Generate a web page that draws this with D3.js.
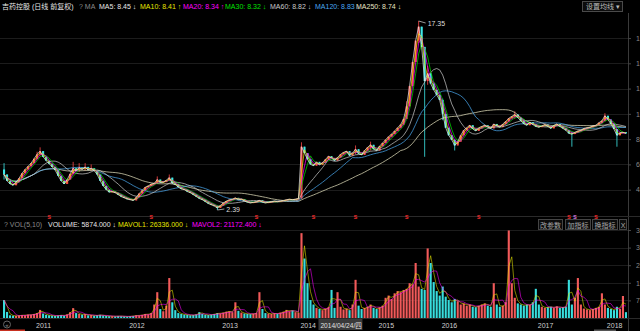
<!DOCTYPE html>
<html>
<head>
<meta charset="utf-8">
<script src="https://cdn.jsdelivr.net/npm/d3@7"></script>
<style>
  html, body { margin: 0; padding: 0; background: #000; }
  svg { display: block; font-family: "Liberation Sans", Arial, "Noto Sans CJK SC", sans-serif; }
</style>
</head>
<body>
<svg id="chart" width="640" height="331"></svg>
<script>
// closing prices, one candle per ~2 weeks of trading
const closes = [
  5.2, 4.7, 4.45, 4.35, 4.6, 4.9, 5.3, 5.6, 5.85, 6.1,
  6.45, 6.8, 7.05, 6.6, 6.3, 6.05, 5.8, 5.55, 5.1, 4.7,
  4.45, 4.8, 5.25, 5.7, 5.5, 5.75, 5.6, 5.8, 5.55, 5.7,
  5.5, 5.2, 4.7, 4.3, 4.0, 3.8, 3.85, 3.75, 3.6, 3.45,
  3.35, 3.25, 3.2, 3.15, 3.4, 3.7, 3.95, 4.2, 4.3, 4.45,
  4.5, 4.8, 4.55, 4.6, 4.75, 4.95, 4.5, 4.4, 4.2, 4.05,
  4.0, 3.85, 3.75, 3.6, 3.45, 3.3, 3.2, 3.05, 2.9, 2.8,
  2.7, 2.55, 2.75, 2.95, 3.1, 3.2, 3.25, 3.35, 3.2, 3.25,
  3.1, 3.0, 2.95, 3.0, 3.05, 3.15, 3.0, 2.95, 3.0, 3.05,
  3.1, 3.05, 3.1, 3.15, 3.2, 3.25, 3.2, 3.25, 3.3, 7.4,
  6.9, 6.4, 6.0, 5.9, 6.2, 5.95, 6.15, 6.4, 6.65, 6.5,
  6.3, 6.55, 6.8, 6.95, 7.05, 6.7, 6.9, 7.2, 6.85, 6.75,
  7.1, 7.35, 7.55, 7.2, 7.1, 7.45, 7.7, 7.95, 8.2, 8.4,
  8.65, 8.9, 9.15, 9.6, 10.6, 12.2, 14.1, 15.8, 16.9, 15.3,
  12.6, 13.2, 12.4, 11.9, 11.5, 11.1, 10.0, 8.9, 8.3, 7.95,
  7.5, 7.8, 8.3, 8.7, 8.9, 9.1, 8.8, 8.65, 8.9, 9.0,
  9.1, 8.95, 8.85, 9.2, 9.05, 8.95, 9.2, 9.4, 9.65, 9.8,
  9.95, 9.7, 9.45, 9.2, 9.1, 9.35, 9.15, 9.0, 8.95, 9.05,
  9.15, 9.0, 8.85, 9.1, 9.2, 9.0, 8.85, 8.7, 8.45, 8.4,
  8.55, 8.65, 8.7, 8.85, 8.9, 8.95, 9.05, 9.1, 9.3, 9.45,
  9.85, 9.55, 9.2, 8.8, 8.3, 8.5, 8.55, 8.45
];
const firstOpen = 5.6;

// notable shadows: [candle index, high, low]
const wicks = [
  [0, 6.1, 4.8], [11, 7.0, 6.4], [12, 7.35, 6.7], [23, 6.2, 5.2], [25, 6.1, 5.4],
  [27, 6.1, 5.5], [29, 6.0, 5.5], [51, 5.05, 4.45], [55, 5.2, 4.7], [71, 2.75, 2.39],
  [99, 7.75, 3.3], [117, 7.5, 6.8], [122, 7.8, 7.1], [134, 11.0, 9.6], [138, 17.35, 15.6],
  [140, 15.3, 6.6], [141, 13.8, 12.3], [146, 11.2, 9.5], [150, 7.9, 7.1], [170, 10.2, 9.6],
  [189, 8.6, 7.4], [200, 10.05, 9.4], [204, 8.8, 7.4]
];

const volumes = [
  80000, 27000, 12000, 10000, 9000, 11000, 13000, 12000, 15000, 14000,
  18000, 22000, 36000, 20000, 14000, 12000, 10000, 9000, 11000, 13000,
  10000, 16000, 26000, 44000, 22000, 18000, 15000, 17000, 12000, 13000,
  10000, 12000, 14000, 11000, 9000, 8000, 8000, 7000, 9000, 8000,
  7000, 6000, 8000, 9000, 12000, 11000, 14000, 18000, 16000, 22000,
  60000, 115000, 40000, 30000, 55000, 178000, 70000, 35000, 22000, 18000,
  15000, 14000, 12000, 13000, 16000, 26000, 18000, 14000, 13000, 15000,
  18000, 22000, 20000, 24000, 28000, 30000, 26000, 70000, 32000, 24000,
  20000, 18000, 17000, 19000, 22000, 115000, 40000, 22000, 20000, 18000,
  21000, 19000, 24000, 28000, 36000, 30000, 34000, 26000, 24000, 378000,
  265000, 155000, 80000, 60000, 45000, 40000, 35000, 42000, 48000, 125000,
  45000, 115000, 50000, 38000, 42000, 35000, 60000, 170000, 55000, 40000,
  45000, 50000, 60000, 45000, 40000, 48000, 55000, 90000, 100000, 85000,
  110000, 120000, 115000, 125000, 130000, 155000, 150000, 245000, 140000, 130000,
  125000, 310000, 245000, 160000, 120000, 100000, 140000, 95000, 80000, 70000,
  85000, 75000, 60000, 65000, 55000, 60000, 50000, 48000, 55000, 60000,
  65000, 55000, 50000, 155000, 60000, 50000, 55000, 70000, 390000, 155000,
  90000, 65000, 60000, 55000, 60000, 58000, 70000, 130000, 60000, 50000,
  45000, 48000, 50000, 45000, 52000, 45000, 48000, 50000, 170000, 60000,
  90000, 178000, 60000, 42000, 38000, 35000, 40000, 45000, 50000, 110000,
  60000, 45000, 40000, 35000, 50000, 40000, 98000, 26000
];

// moving averages (windows in candles) and their legend
const maNames = ["MA5", "MA10", "MA20", "MA30", "MA60", "MA120", "MA250"];
const maWindows = [1, 2, 3, 4, 10, 18, 34];
const maLegend = ["8.45 ↓", "8.41 ↑", "8.34 ↑", "8.32 ↓", "8.82 ↓", "8.83 ↓", "8.74 ↓"];
const maColors = ["#e8e8e8", "#e6e600", "#ff00ff", "#00e000", "#c8c8c8", "#4aa8f0", "#e8e4c0"];
const maLegendX = [99, 140, 183, 225, 270, 315, 356];

const volWindows = [2, 4];
const volLegend = ["VOLUME: 5874.000 ↓", "MAVOL1: 26336.000 ↓", "MAVOL2: 21172.400 ↓"];
const volColors = ["#e6e6e6", "#e6e600", "#ff00ff"];

const years = ["2011", "2012", "2013", "2014", "2015", "2016", "2017", "2018"];
const yearIndex = [11, 42, 73, 99, 125, 146, 178, 201];
const priceTicks = [4, 6, 8, 10, 12, 14, 16];
const volTicks = [78400, 156800, 235200, 313600, 392000];
const signalIndex = [15, 49, 84, 103, 117, 134, 158, 188, 190, 197];

const upColor = "#ff4646", downColor = "#3ee8e8";

const svg = d3.select("#chart");
svg.append("rect").attr("width", 640).attr("height", 331).attr("fill", "#000");

const N = closes.length;
const x = d3.scaleBand().domain(d3.range(N)).range([3, 627]).paddingInner(0.3);
const bw = x.bandwidth();
const cx = i => x(i) + bw / 2;
const y = d3.scaleLinear().domain([2.39, 17.35]).range([210, 21]);
const yv = d3.scaleLinear().domain([0, 392000]).range([318, 230]);

// candle table
const wickMap = new Map(wicks.map(w => [w[0], w]));
const candles = closes.map((c, i) => {
  const o = i === 0 ? firstOpen : closes[i - 1];
  const w = wickMap.get(i);
  return {
    i, o, c,
    h: w ? w[1] : Math.max(o, c),
    l: w ? w[2] : Math.min(o, c),
    v: volumes[i]
  };
});

function movingAvg(arr, n) {
  return arr.map((_, i) => d3.mean(arr.slice(Math.max(0, i - n + 1), i + 1)));
}

// grid
svg.append("g").selectAll("line").data(priceTicks).join("line")
  .attr("x1", 0).attr("x2", 628)
  .attr("y1", d => Math.round(y(d)) + 0.5).attr("y2", d => Math.round(y(d)) + 0.5)
  .attr("stroke", "#1c1c1c");
svg.append("g").selectAll("line").data(volTicks).join("line")
  .attr("x1", 0).attr("x2", 628)
  .attr("y1", d => Math.round(yv(d)) + 0.5).attr("y2", d => Math.round(yv(d)) + 0.5)
  .attr("stroke", "#1c1c1c");

// panel frame
svg.append("line").attr("x1", 628.5).attr("x2", 628.5).attr("y1", 13).attr("y2", 331).attr("stroke", "#3a3a3a");
svg.append("line").attr("x1", 0).attr("x2", 640).attr("y1", 216.5).attr("y2", 216.5).attr("stroke", "#2a2a2a");
svg.append("line").attr("x1", 0).attr("x2", 640).attr("y1", 318.5).attr("y2", 318.5).attr("stroke", "#2a2a2a");

// right axes (labels run past the window edge, as in the original)
const axP = svg.append("g").attr("transform", "translate(628,0)")
  .call(d3.axisRight(y).tickValues(priceTicks).tickSize(3).tickFormat(d3.format(".2f")));
const axV = svg.append("g").attr("transform", "translate(628,0)")
  .call(d3.axisRight(yv).tickValues(volTicks).tickSize(3).tickFormat(d => (d / 10000).toFixed(1) + "万"));
[axP, axV].forEach(a => {
  a.select(".domain").remove();
  a.selectAll("line").attr("stroke", "#444");
  a.selectAll("text").attr("fill", "#8a8a8a").attr("font-size", 7).attr("x", 8);
});

// candles
const cg = svg.append("g");
cg.selectAll("line").data(candles).join("line")
  .attr("x1", d => cx(d.i)).attr("x2", d => cx(d.i))
  .attr("y1", d => y(d.h)).attr("y2", d => y(d.l))
  .attr("stroke", d => d.c >= d.o ? upColor : downColor).attr("stroke-width", 0.8);
cg.selectAll("rect").data(candles).join("rect")
  .attr("x", d => x(d.i)).attr("width", bw)
  .attr("y", d => y(Math.max(d.o, d.c)))
  .attr("height", d => Math.max(0.8, Math.abs(y(d.o) - y(d.c))))
  .attr("fill", d => d.c >= d.o ? upColor : downColor);

// moving average lines, longest first
const line = d3.line().x((d, i) => cx(i)).y(d => y(d));
d3.range(maWindows.length).reverse().forEach(k => {
  svg.append("path").datum(movingAvg(closes, maWindows[k]))
    .attr("d", line).attr("fill", "none")
    .attr("stroke", maColors[k]).attr("stroke-width", 0.8).attr("opacity", 0.9);
});

// high / low marks
const hi = candles.reduce((a, b) => b.h > a.h ? b : a);
const lo = candles.reduce((a, b) => b.l < a.l ? b : a);
[[hi, hi.h, 2], [lo, lo.l, -1]].forEach(([d, v, dy]) => {
  svg.append("line").attr("x1", cx(d.i)).attr("x2", cx(d.i) + 7)
    .attr("y1", y(v)).attr("y2", y(v) + dy).attr("stroke", "#ddd").attr("stroke-width", 0.7);
  svg.append("text").attr("x", cx(d.i) + 9).attr("y", y(v) + dy + 3)
    .attr("fill", "#ddd").attr("font-size", 7).text(v.toFixed(2));
});

// red event marks
svg.append("g").selectAll("text").data(signalIndex).join("text")
  .attr("x", d => cx(d)).attr("y", 219).attr("text-anchor", "middle")
  .attr("font-size", 7).attr("font-weight", "bold")
  .attr("fill", (d, i) => i === 8 ? "#c070d0" : "#e02828").text("s");

// volume bars
svg.append("g").selectAll("rect").data(candles).join("rect")
  .attr("x", d => x(d.i)).attr("width", bw)
  .attr("y", d => yv(d.v)).attr("height", d => 318 - yv(d.v))
  .attr("fill", d => d.c >= d.o ? "#f25a5a" : "#38dede");
const vline = d3.line().x((d, i) => cx(i)).y(d => yv(d));
volWindows.forEach((n, k) => {
  svg.append("path").datum(movingAvg(volumes, n))
    .attr("d", vline).attr("fill", "none")
    .attr("stroke", volColors[k + 1]).attr("stroke-width", 0.7).attr("opacity", 0.8);
});

// top legend
svg.append("text").attr("x", 2).attr("y", 9).attr("font-size", 7).attr("fill", "#e6e6e6")
  .text("吉药控股 (日线 前复权)");
svg.append("text").attr("x", 79).attr("y", 9).attr("font-size", 7).attr("fill", "#8a8a8a").text("? MA");
maNames.forEach((n, k) => {
  svg.append("text").attr("x", maLegendX[k]).attr("y", 9).attr("font-size", 7)
    .attr("fill", maColors[k]).text(n + ": " + maLegend[k]);
});
svg.append("rect").attr("x", 582.5).attr("y", 1.5).attr("width", 40).attr("height", 10)
  .attr("fill", "#0c0c0c").attr("stroke", "#4a4a4a");
svg.append("text").attr("x", 586).attr("y", 9).attr("font-size", 7).attr("fill", "#bbb").text("设置均线 ▾");

// volume legend
svg.append("text").attr("x", 4).attr("y", 227).attr("font-size", 7).attr("fill", "#8a8a8a").text("? VOL(5,10)");
[48, 118, 192].forEach((px, k) => {
  svg.append("text").attr("x", px).attr("y", 227).attr("font-size", 7)
    .attr("fill", volColors[k]).text(volLegend[k]);
});
const buttons = [["改参数", 538, 24], ["加指标", 565, 25], ["换指标", 592, 25], ["X", 619, 7]];
buttons.forEach(([t, bx, w]) => {
  svg.append("rect").attr("x", bx + 0.5).attr("y", 219.5).attr("width", w).attr("height", 10)
    .attr("fill", "#0c0c0c").attr("stroke", "#444");
  svg.append("text").attr("x", bx + w / 2 + 0.5).attr("y", 227.5).attr("text-anchor", "middle")
    .attr("font-size", 7).attr("fill", "#aaa").text(t);
});

// date axis
svg.append("g").selectAll("text").data(years).join("text")
  .attr("x", (d, k) => x(yearIndex[k])).attr("y", 327.5)
  .attr("font-size", 7).attr("fill", "#cfcfcf").text(d => d);
svg.append("rect").attr("x", x(105)).attr("y", 319).attr("width", 44).attr("height", 11).attr("fill", "#3a3a3a");
svg.append("text").attr("x", x(105) + 2).attr("y", 327.5).attr("font-size", 6.6).attr("fill", "#e0e0e0")
  .text("2014/04/24/四");
svg.append("circle").attr("cx", 7).attr("cy", 324.5).attr("r", 3.5).attr("fill", "none").attr("stroke", "#666");
svg.append("text").attr("x", 7).attr("y", 327).attr("text-anchor", "middle").attr("font-size", 6).attr("fill", "#999").text("«");
svg.append("rect").attr("x", 0).attr("y", 329.5).attr("width", 25).attr("height", 1.5).attr("fill", "#c83020");
svg.append("rect").attr("x", 594).attr("y", 329.5).attr("width", 22).attr("height", 1.5).attr("fill", "#555");
</script>
</body>
</html>
